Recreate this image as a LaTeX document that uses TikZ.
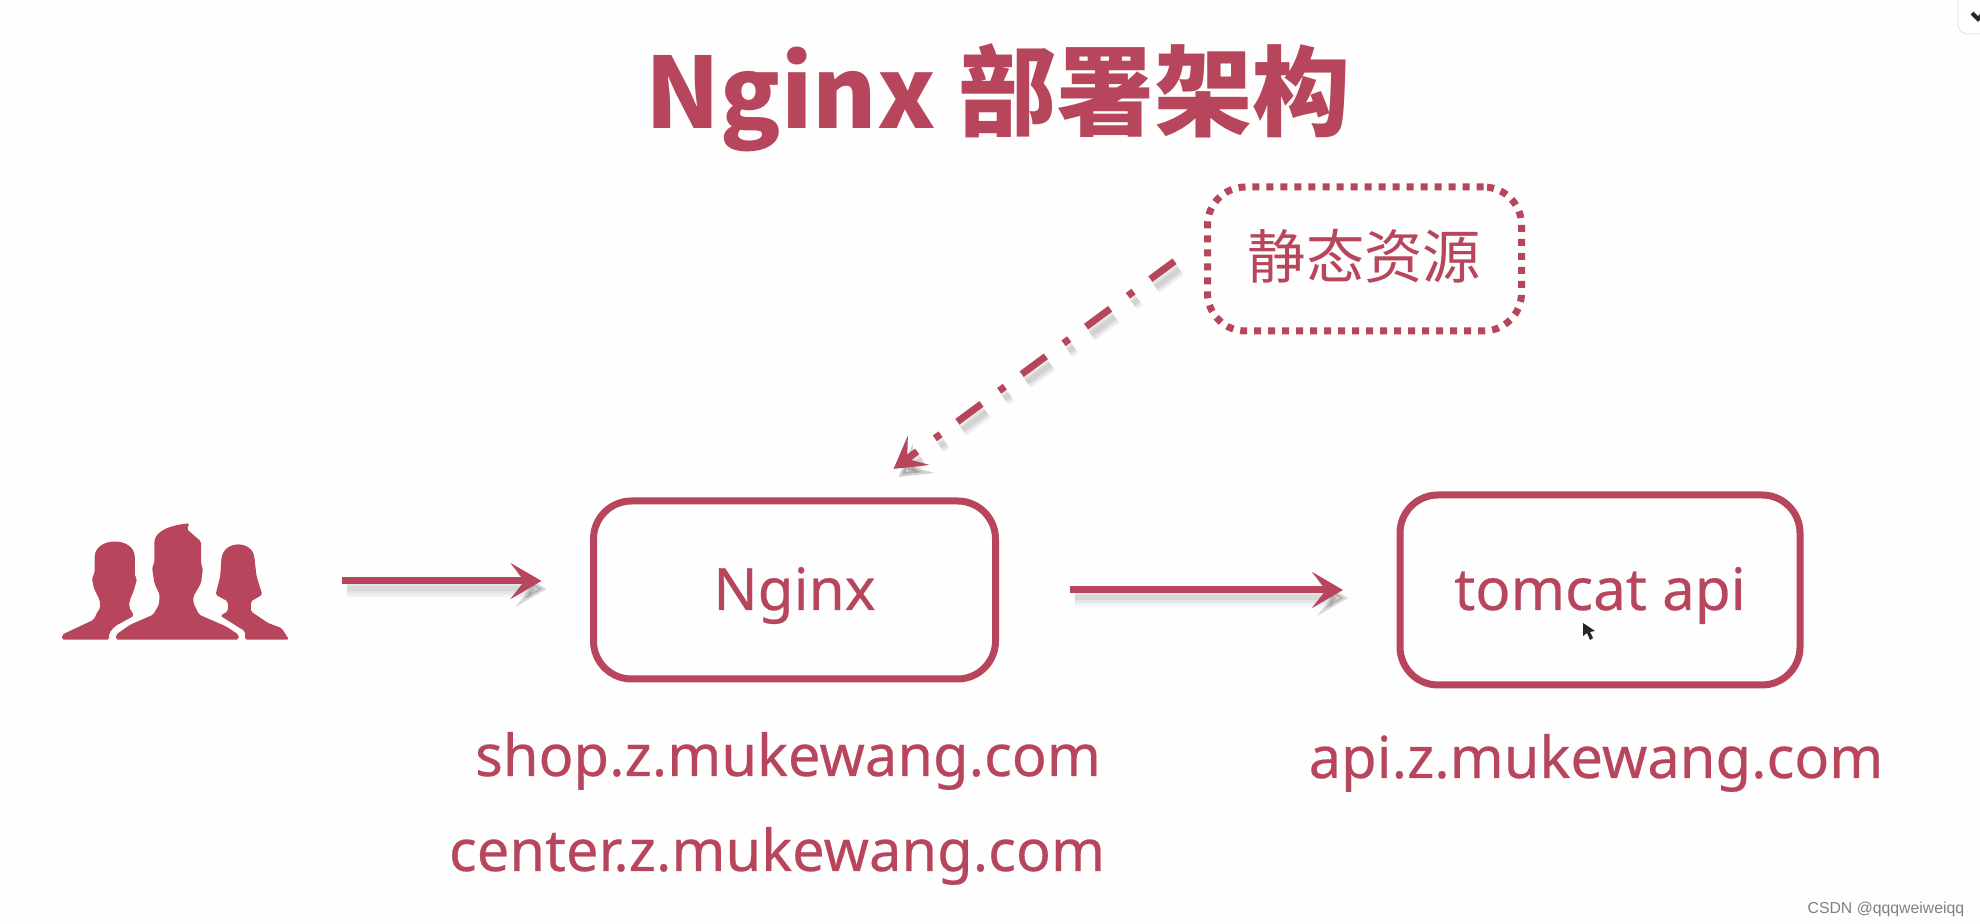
\documentclass[tikz,border=0pt]{standalone}
\usepackage{fontspec}
\setmainfont[FakeBold=.35]{Noto Sans}
\newfontfamily\cjk{Noto Sans CJK SC}
\usepackage{tikz}
\usetikzlibrary{arrows.meta}
\definecolor{mainred}{HTML}{B7455B}
\tikzset{
    box/.style={draw=mainred, line width=.07cm, rounded corners=.38cm, outer sep=0pt, text=mainred, text height=.5cm, text depth=.1cm, font=\fontsize{16.6}{19}\selectfont},
    hostname/.style={text=mainred, anchor=base, inner sep=0pt, font=\fontsize{16.45}{19}\selectfont},
    shadowpart/.style={preaction={draw=black, opacity=.05, line width=#1, -{Stealth[length=.31cm,width=.36cm,inset=.14cm]}, transform canvas={shift={(.05,-.08)}}}},
    softshadow/.style={shadowpart=.16cm, shadowpart=.1cm, shadowpart=.05cm},
    dashshadowpart/.style={preaction={draw=black, opacity=.06, dash pattern=on .3cm off .21cm on .07cm off .22cm, line width=#1, transform canvas={shift={(.05,-.08)}}}},
    flow/.style={draw=mainred, line width=.07cm, -{Stealth[length=.31cm,width=.36cm,inset=.14cm]}},
}

\begin{document}
\begin{tikzpicture}

\useasboundingbox[fill=white!99.5!black] (0,0) rectangle (19.8,9.24);

\node[text=mainred, inner sep=0pt, anchor=base] (title) at (9.98,7.95) {\fontsize{27.9}{32}\selectfont\cjk\bfseries Nginx 部署架构};

% people icon, traced
\node[inner sep=0pt, minimum width=2.28cm, minimum height=1.17cm] (users) at (1.76,3.43) {};
\begin{scope}[shift={(0,4.44)},x=0.003827cm,y=-0.003333cm,rounded corners=.5pt]
\fill[mainred] (162,480) -- (162,465) -- (245,420) -- (255,395) -- (262,385) -- (260,360) -- (245,325) -- (240,295) -- (247,280) -- (247,235)
    .. controls (250,170) and (350,170) .. (352,235) -- (352,290) -- (358,297) -- (350,330) -- (338,365) -- (338,385) -- (350,408) -- (300,440) -- (285,460) -- (285,480) -- cycle;
\fill[mainred] (303,480) -- (303,465) -- (340,435) -- (400,405) -- (415,375) -- (417,345) -- (403,310) -- (397,262) -- (403,250) -- (403,185)
    .. controls (410,150) and (450,135) .. (495,130) -- (488,148) -- (525,185) -- (525,255) -- (530,265) -- (525,310) -- (505,350) -- (505,370) -- (520,405) -- (590,440) -- (623,465) -- (623,480) -- cycle;
\fill[mainred] (640,480) -- (640,455) -- (575,408) -- (595,395) -- (595,365) -- (563,345) -- (575,290) -- (578,240)
    .. controls (585,180) and (660,180) .. (665,240) -- (670,290) -- (685,345) -- (655,365) -- (655,395) -- (700,430) -- (735,445) -- (755,480) -- cycle;
\end{scope}

\node[box, minimum width=4.02cm, minimum height=1.78cm] (nginx) at (7.945,3.34) {Nginx};
\node[box, minimum width=4cm, minimum height=1.9cm] (tomcat) at (16,3.34) {tomcat api};
\node[box, dash pattern=on .07cm off .07cm, minimum width=3.14cm, minimum height=1.44cm] (staticres) at (13.645,6.65) {\cjk 静态资源};

\node[hostname] (shop) at (7.88,1.48) {shop.z.mukewang.com};
\node[hostname] (center) at (7.77,.53) {center.z.mukewang.com};
\node[hostname] (api) at (15.96,1.46) {api.z.mukewang.com};

\draw[flow, softshadow, shorten <=.51cm, shorten >=.52cm] (users.east) -- (users.east -| nginx.west);
\draw[flow, softshadow, shorten <=.74cm, shorten >=.57cm] (nginx.east) -- (tomcat.west);
\draw[flow, dashshadowpart=.14cm, dashshadowpart=.09cm, dashshadowpart=.05cm, shorten <=.41cm, shorten >=.54cm, dash pattern=on .3cm off .21cm on .07cm off .22cm] (staticres.172.8) -- (nginx.58.3);

% mouse pointer
\fill[black!85] (15.83,3.01) -- (15.83,2.88) -- (15.87,2.91) -- (15.90,2.84) -- (15.93,2.86) -- (15.90,2.92) -- (15.95,2.93) -- cycle;

% window corner
\draw[black!8, fill=white] (19.8,8.9) -- (19.68,8.9) .. controls (19.62,8.9) and (19.58,8.94) .. (19.58,9) -- (19.58,9.24);
\draw[black!85, line width=.04cm] (19.72,9.11) -- (19.78,9.05) -- (19.84,9.11);

\node[text=black!50, inner sep=0pt, anchor=base east, font=\fontsize{4.5}{6}\selectfont\fontspec{Liberation Sans}] (mark) at (19.65,.1) {CSDN @qqqweiweiqq};

\end{tikzpicture}
\end{document}
